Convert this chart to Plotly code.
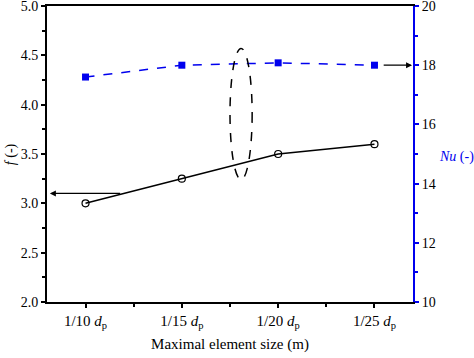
import plotly.graph_objects as go

categories = ["1/10 <i>d</i><sub>p</sub>", "1/15 <i>d</i><sub>p</sub>", "1/20 <i>d</i><sub>p</sub>", "1/25 <i>d</i><sub>p</sub>"]
f_values = [3.0, 3.25, 3.5, 3.6]
nu_values = [17.6, 18.0, 18.08, 18.0]
xpos = list(range(len(categories)))

FONT = "Liberation Serif"
fig = go.Figure()
fig.add_trace(go.Scatter(x=xpos, y=f_values, mode="lines+markers",
                         line=dict(color="black", width=1.5),
                         marker=dict(symbol="circle-open", size=7, color="black", line=dict(width=1.2)),
                         showlegend=False))
fig.add_trace(go.Scatter(x=xpos, y=nu_values, mode="lines+markers", yaxis="y2",
                         line=dict(color="#0000ee", width=1.5, dash="dash"),
                         marker=dict(symbol="square", size=7, color="#0000ee"),
                         showlegend=False))

fig.update_layout(
    width=474, height=358,
    margin=dict(l=47, r=61, t=6, b=56, autoexpand=False),
    plot_bgcolor="white", paper_bgcolor="white",
    font=dict(family=FONT, size=14, color="black"),
    xaxis=dict(range=[-0.4, 3.4], tickvals=xpos, ticktext=categories, automargin=False,
               showline=True, linecolor="black", linewidth=2, mirror=True,
               ticks="outside", ticklen=4, tickwidth=1.5, tickcolor="black",
               minor=dict(tickvals=[0.5, 1.5, 2.5], ticks="outside", ticklen=3, tickcolor="black", tickwidth=1.5),
               showgrid=False, zeroline=False, ticklabeloverflow="allow",
               tickfont=dict(size=15),
               title=dict(text="Maximal element size (m)", font=dict(size=15), standoff=8)),
    yaxis=dict(range=[2, 5], dtick=0.5, tickformat=".1f", automargin=False,
               showline=True, linecolor="black", linewidth=2,
               ticks="outside", ticklen=4, tickwidth=1.5, tickcolor="black",
               minor=dict(dtick=0.25, ticks="outside", ticklen=3, tickcolor="black", tickwidth=1.5),
               showgrid=False, zeroline=False, ticklabeloverflow="allow"),
    yaxis2=dict(range=[10, 20], dtick=2, overlaying="y", side="right", automargin=False,
                showline=True, linecolor="#0000ee", linewidth=2,
                ticks="outside", ticklen=4, tickwidth=1.5, tickcolor="#0000ee",
                minor=dict(dtick=1, ticks="outside", ticklen=3, tickcolor="#0000ee", tickwidth=1.5),
                tickfont=dict(color="black"), ticklabeloverflow="allow",
                showgrid=False, zeroline=False),
)

fig.add_annotation(x=-0.098, y=0.5, xref="paper", yref="paper", text="<i>f</i> (-)",
                   xanchor="center", yanchor="middle",
                   showarrow=False, textangle=-90, font=dict(size=14))
fig.add_annotation(x=1.065, y=0.49, xref="paper", yref="paper", xanchor="left",
                   text="<i>Nu</i> (-)", showarrow=False, font=dict(color="#0000ee", size=14))

fig.add_annotation(x=-0.37, y=3.1, ax=0.375, ay=3.1, xref="x", yref="y", axref="x", ayref="y",
                   text="", showarrow=True, arrowhead=2, arrowsize=1, arrowwidth=1.2, arrowcolor="black")
fig.add_annotation(x=3.39, y=18.0, ax=3.08, ay=18.0, xref="x", yref="y2", axref="x", ayref="y2",
                   text="", showarrow=True, arrowhead=2, arrowsize=1, arrowwidth=1.2, arrowcolor="black")

fig.add_shape(type="circle", xref="x", yref="y", x0=1.5, x1=1.73, y0=3.24, y1=4.57,
              line=dict(color="black", width=1.5, dash="dash"))

fig.write_html("out.html", config={"displayModeBar": False},
               post_script="document.body.style.margin='0';document.body.style.padding='0';")
